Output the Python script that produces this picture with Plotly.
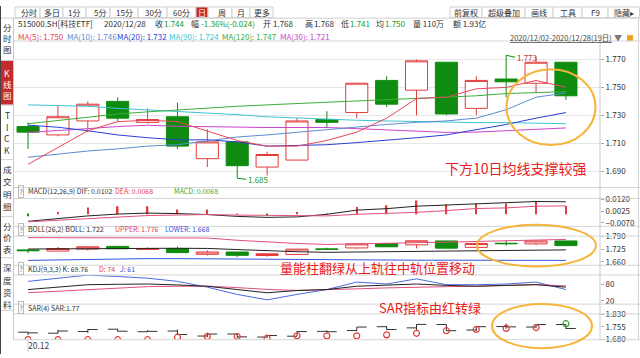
import plotly.graph_objects as go

# ---------------- data ----------------
dates = ["2020-12-02", "2020-12-03", "2020-12-04", "2020-12-07", "2020-12-08",
         "2020-12-09", "2020-12-10", "2020-12-11", "2020-12-14", "2020-12-15",
         "2020-12-16", "2020-12-17", "2020-12-18", "2020-12-21", "2020-12-22",
         "2020-12-23", "2020-12-24", "2020-12-25", "2020-12-28"]

open_p = [1.722, 1.716, 1.726, 1.740, 1.725, 1.729, 1.699, 1.711, 1.693, 1.698,
          1.727, 1.732, 1.755, 1.748, 1.768, 1.735, 1.756, 1.753, 1.768]
high_p = [1.725, 1.737, 1.740, 1.743, 1.735, 1.739, 1.720, 1.711, 1.704, 1.728,
          1.733, 1.753, 1.758, 1.770, 1.768, 1.758, 1.773, 1.772, 1.768]
low_p = [1.706, 1.715, 1.718, 1.726, 1.724, 1.706, 1.693, 1.685, 1.687, 1.698,
         1.721, 1.728, 1.736, 1.730, 1.730, 1.730, 1.743, 1.746, 1.741]
close_p = [1.718, 1.729, 1.738, 1.728, 1.727, 1.708, 1.711, 1.694, 1.702, 1.726,
           1.725, 1.753, 1.738, 1.769, 1.731, 1.755, 1.754, 1.768, 1.744]

ma5 = [1.695, 1.707, 1.719, 1.7255, 1.7265, 1.7255, 1.719, 1.712, 1.708, 1.708,
       1.712, 1.718, 1.728, 1.742, 1.743, 1.749, 1.750, 1.755, 1.750]
ma10 = [1.700, 1.7025, 1.7045, 1.706, 1.708, 1.709, 1.712, 1.7145, 1.716, 1.718,
        1.7195, 1.7215, 1.7235, 1.725, 1.726, 1.728, 1.734, 1.743, 1.746]
ma20 = [1.723, 1.7215, 1.719, 1.716, 1.714, 1.7125, 1.7125, 1.711, 1.708, 1.7085,
        1.709, 1.7105, 1.712, 1.714, 1.716, 1.7195, 1.7235, 1.728, 1.732]
ma90 = [1.7375, 1.737, 1.7365, 1.735, 1.734, 1.733, 1.7315, 1.7305, 1.729, 1.728,
        1.727, 1.7265, 1.726, 1.7255, 1.725, 1.7248, 1.7248, 1.7245, 1.724]
ma120 = [1.724, 1.7265, 1.729, 1.731, 1.7325, 1.734, 1.735, 1.7365, 1.7375, 1.7385,
         1.739, 1.740, 1.741, 1.742, 1.7433, 1.744, 1.7456, 1.7462, 1.747]
ma30 = [1.7178, 1.719, 1.7205, 1.722, 1.7229, 1.7222, 1.7218, 1.7213, 1.7213, 1.7213,
        1.7213, 1.7205, 1.7197, 1.719, 1.7178, 1.718, 1.719, 1.720, 1.721]

dif = [-0.0057, -0.0033, -0.0013, 0.0002, 0.0010, 0.0006, -0.0002, -0.0017, -0.0025, -0.0021,
       0.0000, 0.0034, 0.0046, 0.0066, 0.0077, 0.0085, 0.0098, 0.0104, 0.0102]
dea = [-0.0061, -0.0049, -0.0033, -0.0021, -0.0010, -0.0006, -0.0002, -0.0006, -0.0010, -0.0010,
       -0.0013, 0.0000, 0.0006, 0.0016, 0.0030, 0.0047, 0.0052, 0.0066, 0.0068]
macd_hist = [-0.0016, 0.0018, 0.0055, 0.0066, 0.0066, 0.0040, 0.0040, 0.0005, -0.0008, 0.0018,
             0.0004, 0.0060, 0.0073, 0.0113, 0.0079, 0.0087, 0.0087, 0.0105, 0.0068]

boll_up = [1.785, 1.785, 1.785, 1.785, 1.784, 1.784, 1.783, 1.7715, 1.763, 1.755,
           1.750, 1.752, 1.755, 1.759, 1.762, 1.766, 1.770, 1.773, 1.776]
boll_mid = [1.7265, 1.728, 1.7295, 1.7305, 1.7305, 1.7305, 1.7295, 1.7228, 1.7175, 1.7125,
            1.7095, 1.7105, 1.712, 1.714, 1.7155, 1.7175, 1.719, 1.7205, 1.722]
boll_low = [1.668, 1.671, 1.674, 1.676, 1.677, 1.677, 1.676, 1.674, 1.672, 1.670,
            1.669, 1.669, 1.669, 1.669, 1.669, 1.669, 1.668, 1.668, 1.668]

kdj_k = [61, 70.5, 78.5, 80, 81, 77.5, 73, 61, 49.5, 57.5,
         61, 73, 76, 81, 76, 73, 76, 78.5, 69.76]
kdj_d = [49.5, 55.5, 61, 67, 71.5, 73, 73, 68, 61.5, 58,
         60, 63.5, 67, 70.5, 71.5, 73, 76, 79, 74]
kdj_j = [90.5, 102, 113, 108, 102, 90.5, 69.5, 43.5, 24, 43.5,
         61, 88, 81, 99.5, 78.5, 78.5, 81, 88, 61]

sar = [1.677, 1.677, 1.677, 1.677, 1.677, 1.692, 1.696, 1.696, 1.686, 1.700,
       1.700, 1.700, 1.706, 1.7155, 1.731, 1.739, 1.745, 1.750, 1.773]

main_ticks = [1.690, 1.710, 1.730, 1.750, 1.770]
macd_ticks = [0.0120, 0.0025, -0.0070]
boll_ticks = [1.790, 1.725, 1.660]
kdj_ticks = [80, 20]
sar_ticks = [1.830, 1.755, 1.680]
month_label = ["20.12"]

toolbar_left = ["分时", "多日", "1分", "5分", "15分", "30分", "60分", "日", "周", "月", "更多"]
toolbar_right = ["前复权", "超级叠加", "画线", "工具", "F9", "隐藏▸"]

# ---------------- styling helpers ----------------
W, H = 640, 358
X0, X1 = 14, 600
FONT = "Noto Sans CJK SC, Noto Sans, sans-serif"
RED = "#e23b3b"
GREEN = "#0f8c0f"
TXTGREEN = "#229922"
PINK = "#e0507a"
ORANGE = "#f5b43a"


def fx(x):
    return x / W


def fy(y):
    return 1 - y / H


fig = go.Figure()

candle_style = dict(
    increasing=dict(line=dict(color=RED, width=1), fillcolor="#ffffff"),
    decreasing=dict(line=dict(color=GREEN, width=1), fillcolor=GREEN),
    whiskerwidth=0, hoverinfo="skip", showlegend=False)

# main K-line panel
fig.add_trace(go.Candlestick(x=dates, open=open_p, high=high_p, low=low_p, close=close_p,
                             xaxis="x", yaxis="y", **candle_style))
for vals, col in [(ma90, "#3ec3d3"), (ma120, "#3cae3c"), (ma30, "#cc44cc"),
                  (ma20, "#2a3fd6"), (ma10, "#5b8bd0"), (ma5, "#e8455a")]:
    fig.add_trace(go.Scatter(x=dates, y=vals, mode="lines", line=dict(color=col, width=1),
                             xaxis="x", yaxis="y", hoverinfo="skip"))

# MACD panel
fig.add_trace(go.Bar(x=dates, y=macd_hist, width=0.05,
                     marker=dict(color=[RED if v >= 0 else GREEN for v in macd_hist],
                                 line=dict(width=0)),
                     xaxis="x2", yaxis="y2", hoverinfo="skip"))
fig.add_trace(go.Scatter(x=dates, y=dif, mode="lines", line=dict(color="#222222", width=1),
                         xaxis="x2", yaxis="y2", hoverinfo="skip"))
fig.add_trace(go.Scatter(x=dates, y=dea, mode="lines", line=dict(color=PINK, width=1),
                         xaxis="x2", yaxis="y2", hoverinfo="skip"))

# BOLL panel
fig.add_trace(go.Candlestick(x=dates, open=open_p, high=high_p, low=low_p, close=close_p,
                             xaxis="x3", yaxis="y3", **candle_style))
for vals, col in [(boll_up, PINK), (boll_mid, "#222222"), (boll_low, "#3355dd")]:
    fig.add_trace(go.Scatter(x=dates, y=vals, mode="lines", line=dict(color=col, width=1),
                             xaxis="x3", yaxis="y3", hoverinfo="skip"))

# KDJ panel
for vals, col in [(kdj_j, "#4a6ae0"), (kdj_d, PINK), (kdj_k, "#222222")]:
    fig.add_trace(go.Scatter(x=dates, y=vals, mode="lines", line=dict(color=col, width=1),
                             xaxis="x4", yaxis="y4", hoverinfo="skip"))

# SAR panel
fig.add_trace(go.Ohlc(x=dates, open=open_p, high=high_p, low=low_p, close=close_p,
                      increasing=dict(line=dict(color="#333333", width=1)),
                      decreasing=dict(line=dict(color="#333333", width=1)),
                      tickwidth=0.33, xaxis="x5", yaxis="y5", hoverinfo="skip"))
sar_cols = [RED] * (len(sar) - 1) + ["#2fa02f"]
fig.add_trace(go.Scatter(x=dates, y=sar, mode="markers",
                         marker=dict(symbol="circle-open", size=6, color=sar_cols,
                                     line=dict(width=1.2)),
                         xaxis="x5", yaxis="y5", hoverinfo="skip"))

# ---------------- axes ----------------
panels = [
    (36, 186.7, [1.6784, 1.7832], main_ticks, ".3f", True),
    (198, 226.7, [-0.0098, 0.01288], macd_ticks, ".4f", False),
    (236.7, 266.7, [1.643, 1.793], boll_ticks, ".3f", False),
    (276.7, 306.7, [8.55, 113.55], kdj_ticks, "d", False),
    (316.7, 343.3, [1.677, 1.832], sar_ticks, ".3f", False),
]
layout = {}
for i, (ytop, ybot, rng, tv, fmt, grid) in enumerate(panels):
    s = "" if i == 0 else str(i + 1)
    layout["xaxis" + s] = dict(domain=[fx(X0), fx(X1)], range=[-0.47, 19.14], type="category",
                               showgrid=False, zeroline=False, showline=False,
                               showticklabels=False, ticks="", anchor="y" + s,
                               rangeslider=dict(visible=False), fixedrange=True)
    layout["yaxis" + s] = dict(domain=[fy(ybot), fy(ytop)], range=rng, side="right",
                               anchor="x" + s, tickvals=tv, tickformat=fmt,
                               showgrid=grid, gridcolor="#e6e6e6", gridwidth=1,
                               zeroline=False, showline=False, ticks="outside", ticklen=3,
                               tickcolor="#aaaaaa",
                               tickfont=dict(size=8, color="#333333", family=FONT),
                               fixedrange=True)
layout["xaxis5"].update(showticklabels=True, tickvals=[dates[0]], ticktext=month_label,
                        ticklabelposition="outside right",
                        tickfont=dict(size=8.5, color="#444444", family=FONT))

# ---------------- shapes ----------------
shapes = []


def L(x0, y0, x1, y1, color="#d4d4d4", w=1):
    shapes.append(dict(type="line", xref="paper", yref="paper", x0=fx(x0), y0=fy(y0),
                       x1=fx(x1), y1=fy(y1), line=dict(color=color, width=w)))


def R(x0, y0, x1, y1, fill, line="rgba(0,0,0,0)"):
    shapes.append(dict(type="rect", xref="paper", yref="paper", x0=fx(x0), y0=fy(y0),
                       x1=fx(x1), y1=fy(y1), fillcolor=fill, line=dict(color=line, width=1),
                       layer="below"))


def E(x0, y0, x1, y1):
    shapes.append(dict(type="circle", xref="paper", yref="paper", x0=fx(x0), y0=fy(y0),
                       x1=fx(x1), y1=fy(y1), line=dict(color=ORANGE, width=2)))


# toolbar boxes
left_edges = [15, 40, 63, 86, 110, 138, 167, 196, 208, 232, 250, 273]
for k in range(len(toolbar_left)):
    fill = "#c42b2b" if toolbar_left[k] == "日" else "#ffffff"
    R(left_edges[k], 1, left_edges[k + 1], 12, fill, "#d0d0d0")
right_edges = [450, 482, 525, 553, 582, 608, 639.5]
for k in range(len(toolbar_right)):
    R(right_edges[k], 1, right_edges[k + 1], 12, "#ffffff", "#d0d0d0")
L(0, 12.5, 640, 12.5, "#cfcfcf")

# sidebar
R(1, 56, 13, 101.5, "#c42b2b")
for yy in [56, 102, 158, 216.7, 259, 313]:
    L(1, yy, 13.5, yy, "#d0d0d0")
L(13.5, 12.5, 13.5, 343.3, "#c8c8c8")
L(0.5, 0, 0.5, 358, "#444444")

# panel separators
for yy in [36, 186.7, 198, 226.7, 236.7, 266.7, 276.7, 306.7, 316.7, 343.3]:
    L(14, yy, 640, yy, "#d4d4d4")
L(600, 36, 600, 343.3, "#c8c8c8")
L(638.5, 12.5, 638.5, 343.3, "#d4d4d4")
shapes.append(dict(type="line", xref="x5", yref="paper", x0=dates[0], x1=dates[0],
                   y0=fy(343.3), y1=fy(356), line=dict(color="#cccccc", width=1)))

# lock icon
R(627, 30, 633, 36, "#f0a020")

# highlight ellipses
E(506.5, 65, 595.5, 143)
E(477, 225, 596, 268)
E(492, 306.5, 592, 352)

# ---------------- annotations ----------------
ann = []


def T(x, y, s, color="#333333", size=8, anchor="left", **kw):
    d = dict(x=fx(x), y=fy(y), xref="paper", yref="paper", text=s, showarrow=False,
             xanchor=anchor, yanchor="middle",
             font=dict(family=FONT, size=size, color=color))
    d.update(kw)
    ann.append(d)


tb_centers = [28.5, 52, 73.5, 100, 124, 153, 181, 202, 222, 241, 262]
for lab, cx in zip(toolbar_left, tb_centers):
    T(cx, 6.5, lab, "#ffffff" if lab == "日" else "#333333", 8, "center")
tr_centers = [466, 503.5, 539, 567.5, 595, 624]
for lab, cx in zip(toolbar_right, tr_centers):
    T(cx, 6.5, lab, "#333333", 8, "center")

# info line
T(16, 18.3, "515000.SH[科技ETF]")
T(102, 18.3, "2020/12/28")
T(152.5, 18.3, "收")
T(162, 18.3, "1.744", TXTGREEN)
T(189, 18.3, "幅")
T(199, 18.3, "-1.36%(-0.024)", TXTGREEN)
T(261, 18.3, "开")
T(271, 18.3, "1.768")
T(303, 18.3, "高")
T(312, 18.3, "1.768")
T(339, 18.3, "低")
T(348, 18.3, "1.741", TXTGREEN)
T(374, 18.3, "均")
T(383, 18.3, "1.750", TXTGREEN)
T(411, 18.3, "量 110万")
T(451, 18.3, "额 1.93亿")

# MA legend
T(16, 31.5, "MA(5): 1.750", "#e8455a")
T(65, 31.5, "MA(10): 1.746", "#5b8bd0")
T(115, 31.5, "MA(20): 1.732", "#2a3fd6")
T(167, 31.5, "MA(90): 1.724", "#3ec3d3")
T(220, 31.5, "MA(120): 1.747", "#3cae3c")
T(278, 31.5, "MA(30): 1.721", "#cc44cc")
T(508, 32.5, "<u>2020/12/02-2020/12/28(19日)</u>", "#444444", 7.5)
T(618, 32.5, "▼", "#777777", 8, "center")

# sidebar text
side = [("分", 21.5), ("时", 33), ("图", 44.5),
        ("T", 111.7), ("I", 124), ("C", 136.3), ("K", 148.6),
        ("成", 168), ("交", 180.5), ("明", 193), ("细", 205.5),
        ("分", 226), ("价", 238), ("表", 250),
        ("深", 269), ("度", 281.5), ("资", 294), ("料", 306.5)]
for ch, yy in side:
    T(7, yy, ch, "#333333", 8.5, "center", borderpad=0)
for ch, yy in [("K", 68.5), ("线", 80.5), ("图", 92)]:
    T(7, yy, ch, "#ffffff", 8.5, "center", borderpad=0)

# panel headers
for yy in [190.7, 229.8, 270.5, 310.5]:
    T(20.5, yy, "?", "#666666", 7, "center", bordercolor="#bbbbbb", borderwidth=1, borderpad=0.5)
T(26, 190.7, "MACD(12,26,9) DIF: 0.0102", "#333333", 7)
T(113, 190.7, "DEA: 0.0068", "#e0405a", 7)
T(172, 190.7, "MACD: 0.0068", "#3aa83a", 7)
T(26, 229.8, "BOLL(26,2) BOLL: 1.722", "#333333", 7)
T(113, 229.8, "UPPER: 1.776", "#e0405a", 7)
T(163, 229.8, "LOWER: 1.668", "#3355dd", 7)
T(26, 270.5, "KDJ(9,3,3) K: 69.76", "#333333", 7)
T(97, 270.5, "D: 74", "#e0405a", 7)
T(118, 270.5, "J: 61", "#3355dd", 7)
T(26, 310.5, "SAR(4) SAR:1.77", "#333333", 7)

# callouts
T(443, 166.7, "下方10日均线支撑较强", "#e8201c", 14)
T(278, 269.5, "量能柱翻绿从上轨往中轨位置移动", "#e8201c", 13)
T(377, 310, "SAR指标由红转绿", "#e8201c", 13)

# extreme price labels
ann.append(dict(x=dates[7], y=low_p[7], xref="x", yref="y", text="1.685", showarrow=True,
                arrowhead=0, arrowwidth=1, arrowcolor=GREEN, ax=9, ay=1, xanchor="left",
                yanchor="middle", font=dict(family=FONT, size=8, color=TXTGREEN)))
ann.append(dict(x=dates[16], y=high_p[16], xref="x", yref="y", text="1.773", showarrow=True,
                arrowhead=0, arrowwidth=1, arrowcolor=GREEN, ax=9, ay=2, xanchor="left",
                yanchor="middle", font=dict(family=FONT, size=8, color="#b83a3a")))

fig.update_layout(
    width=W, height=H, autosize=False,
    margin=dict(l=0, r=0, t=0, b=0),
    paper_bgcolor="white", plot_bgcolor="white",
    showlegend=False, hovermode=False,
    boxgap=0.15, boxgroupgap=0.13,
    font=dict(family=FONT),
    shapes=shapes, annotations=ann,
    **layout)

fig.write_html("out.html")
